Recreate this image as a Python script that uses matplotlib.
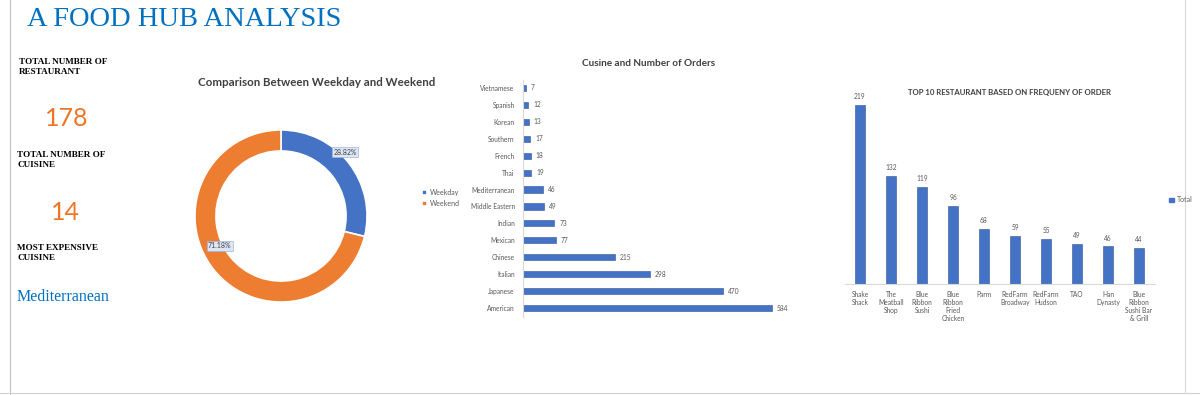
import numpy as np
import matplotlib.pyplot as plt
from matplotlib.patches import Patch

# data
day_labels = ["Weekday", "Weekend"]
day_share = [28.82, 71.18]

cuisines = ["Vietnamese", "Spanish", "Korean", "Southern", "French", "Thai",
            "Mediterranean", "Middle Eastern", "Indian", "Mexican", "Chinese",
            "Italian", "Japanese", "American"]
cuisine_orders = [7, 12, 13, 17, 18, 19, 46, 49, 73, 77, 215, 298, 470, 584]

restaurants = ["Shake\nShack", "The\nMeatball\nShop", "Blue\nRibbon\nSushi",
               "Blue\nRibbon\nFried\nChicken", "Parm", "RedFarm\nBroadway",
               "RedFarm\nHudson", "TAO", "Han\nDynasty",
               "Blue\nRibbon\nSushi Bar\n& Grill"]
restaurant_orders = [219, 132, 119, 96, 68, 59, 55, 49, 46, 44]

kpi_restaurants = "178"
kpi_cuisines = "14"
kpi_expensive = "Mediterranean"

BLUE = "#4472C4"
EDGE = "#2F5597"
ORANGE = "#ED7D31"
TXT = "#595959"
HEAD = "#0070C0"
SANS = ["Lato", "DejaVu Sans"]
SERIF = ["Liberation Serif", "DejaVu Serif"]

plt.rcParams['font.family'] = SANS
fig = plt.figure(figsize=(12, 3.95), dpi=100)

W, H = 1200, 395
def fx(px):
    return px / W
def fy(py):
    return 1 - py / H

# sheet frame bits
fig.add_artist(plt.Line2D([fx(10), fx(10)], [0, 1], color="#BFBFBF", lw=0.8))
fig.add_artist(plt.Line2D([0, 1], [fy(393), fy(393)], color="#D0D0D0", lw=0.8))
fig.add_artist(plt.Line2D([fx(1185), fx(1185)], [fy(393), 1], color="#D9D9D9", lw=0.8))

# header + KPI cards
fig.text(fx(27), fy(20), "A FOOD HUB ANALYSIS", family=SERIF, fontsize=20.5,
         color=HEAD, va="center", ha="left")
kpi_label = dict(family=SERIF, fontsize=6.6, fontweight="bold", va="center",
                 linespacing=1.35)
fig.text(fx(19), fy(67), "TOTAL NUMBER OF\nRESTAURANT", **kpi_label)
fig.text(fx(67), fy(119), kpi_restaurants, fontsize=18, color="#F07425",
         ha="center", va="center")
fig.text(fx(17), fy(160), "TOTAL NUMBER OF\nCUISINE", **kpi_label)
fig.text(fx(65), fy(213), kpi_cuisines, fontsize=18, color="#F07425",
         ha="center", va="center")
fig.text(fx(17), fy(253), "MOST EXPENSIVE\nCUISINE", **kpi_label)
fig.text(fx(17), fy(297), kpi_expensive, family=SERIF, fontsize=11.5,
         color=HEAD, va="center")

# donut
ax1 = fig.add_axes([fx(191), fy(306), fx(180), 180 / H])
wedges, _, pcts = ax1.pie(day_share, colors=[BLUE, ORANGE], startangle=90,
                          counterclock=False, radius=0.956,
                          autopct=lambda p: f"{p:.2f}%", pctdistance=0.88,
                          wedgeprops=dict(width=0.233, edgecolor="white", linewidth=1.2),
                          textprops=dict(fontsize=5, color="#404040"))
for t in pcts:
    t.set_bbox(dict(boxstyle="square,pad=0.2", fc="#DCE6F5", ec="#9DB5DE", lw=0.5))
# Excel had the labels dragged a bit off-centre
pcts[0].set_position((0.71, 0.71))
pcts[1].set_position((-0.68, -0.33))
ax1.set_xlim(-1, 1)
ax1.set_ylim(-1, 1)
ax1.set_aspect("equal")
fig.text(fx(317), fy(83), "Comparison Between Weekday and Weekend",
         fontsize=8.3, fontweight="bold", color="#404040", ha="center", va="center")
fig.legend(wedges, day_labels, loc="center left", bbox_to_anchor=(fx(419), fy(198)),
           frameon=False, fontsize=5, handlelength=0.6, handleheight=0.6,
           handletextpad=0.4, labelspacing=0.6, labelcolor=TXT, borderpad=0)

# cuisine horizontal bars
ax2 = fig.add_axes([fx(523), fy(316.5), 277 / W, 237 / H])
ypos = np.arange(len(cuisines))[::-1]
ax2.barh(ypos, cuisine_orders, height=0.36, color=BLUE, edgecolor=EDGE, linewidth=0.4)
for y, v in zip(ypos, cuisine_orders):
    ax2.text(v + 12, y, str(v), fontsize=4.8, color=TXT, va="center")
ax2.set_yticks(ypos)
ax2.set_yticklabels(cuisines, fontsize=4.8, color=TXT)
ax2.set_ylim(-0.5, len(cuisines) - 0.5)
ax2.set_xlim(0, 650)
ax2.set_xticks([])
ax2.tick_params(axis="y", length=0, pad=6)
for s in ["top", "right", "bottom"]:
    ax2.spines[s].set_visible(False)
ax2.spines["left"].set_color("#D9D9D9")
fig.text(fx(649), fy(64), "Cusine and Number of Orders", fontsize=7.2,
         fontweight="bold", color="#404040", ha="center", va="center")

# top 10 restaurants columns
ax3 = fig.add_axes([fx(844.5), fy(284), 310 / W, 204 / H])
xpos = np.arange(len(restaurants))
ax3.bar(xpos, restaurant_orders, width=0.3, color=BLUE, edgecolor=EDGE, linewidth=0.4)
for x, v in zip(xpos, restaurant_orders):
    ax3.text(x, v + 6, str(v), fontsize=4.8, color=TXT, ha="center", va="bottom")
ax3.set_xticks(xpos)
ax3.set_xticklabels(restaurants, fontsize=4.8, color=TXT, va="top", linespacing=1.15)
ax3.set_xlim(-0.5, len(restaurants) - 0.5)
ax3.set_ylim(0, 250)
ax3.set_yticks([])
ax3.tick_params(axis="x", length=0, pad=5)
for s in ["top", "right", "left"]:
    ax3.spines[s].set_visible(False)
ax3.spines["bottom"].set_color("#D9D9D9")
fig.text(fx(1010), fy(92), "TOP 10 RESTAURANT BASED ON FREQUENY OF ORDER",
         fontsize=5.6, fontweight="bold", color="#404040", ha="center", va="center")
fig.legend([Patch(color=BLUE)], ["Total"], loc="center left",
           bbox_to_anchor=(fx(1166), fy(200)), frameon=False, fontsize=5,
           handlelength=0.6, handleheight=0.6, handletextpad=0.4,
           labelcolor=TXT, borderpad=0)

fig.savefig("out.png", dpi=100, facecolor="white")
